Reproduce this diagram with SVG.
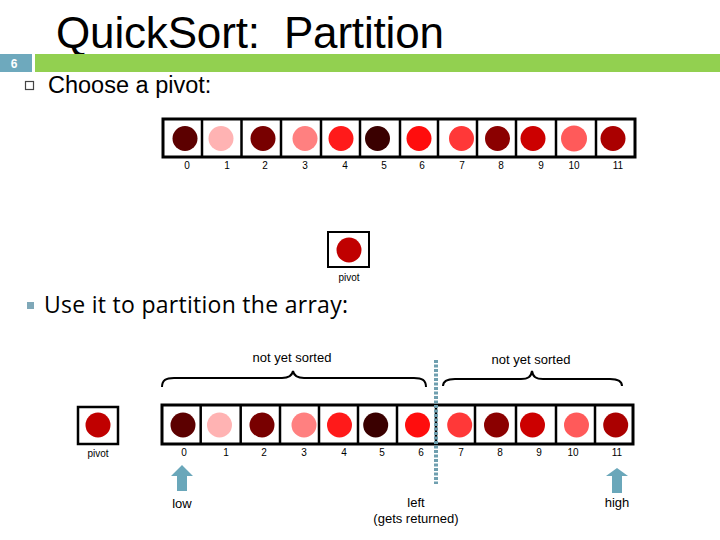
<svg xmlns="http://www.w3.org/2000/svg" width="720" height="540" viewBox="0 0 720 540">
<style>
.t{font-family:"Liberation Sans",Arial,sans-serif;fill:#000}
.idx{font-family:"Liberation Sans",Arial,sans-serif;font-size:10px;fill:#000;text-anchor:middle}
.lbl{font-family:"Liberation Sans",Arial,sans-serif;font-size:13px;fill:#000;text-anchor:middle}
.cell{fill:#fff;stroke:#000;stroke-width:3}
.div{stroke:#000;stroke-width:2.5}
.brace{fill:none;stroke:#000;stroke-width:2}
.arr{fill:#6aa7ba}
</style>
<rect width="720" height="540" fill="#fff"/>
<g id="header">
<text class="t" x="56" y="48" font-size="44" textLength="388" xml:space="preserve" style="white-space:pre">QuickSort:  Partition</text>
<rect x="0" y="54" width="32" height="18" fill="#6ea9bd"/>
<text x="14" y="68" font-family="Liberation Sans,Arial,sans-serif" font-size="12" font-weight="bold" fill="#fff" text-anchor="middle">6</text>
<rect x="35" y="54" width="685" height="18" fill="#92d050"/>
</g>
<g id="bullet1">
<rect x="25.5" y="81.5" width="8" height="8" fill="none" stroke="#444" stroke-width="1.2"/>
<text class="t" x="48" y="93" font-size="23.5">Choose a pivot:</text>
</g>
<g id="top-array">
<rect class="cell" x="163" y="119" width="472" height="38"/>
<g class="div">
<line x1="202" y1="119" x2="202" y2="157"/><line x1="241.5" y1="119" x2="241.5" y2="157"/><line x1="281" y1="119" x2="281" y2="157"/><line x1="321" y1="119" x2="321" y2="157"/><line x1="360" y1="119" x2="360" y2="157"/><line x1="400" y1="119" x2="400" y2="157"/><line x1="438" y1="119" x2="438" y2="157"/><line x1="477" y1="119" x2="477" y2="157"/><line x1="516" y1="119" x2="516" y2="157"/><line x1="556" y1="119" x2="556" y2="157"/><line x1="596" y1="119" x2="596" y2="157"/>
</g>
<circle cx="185" cy="138.5" r="12.5" fill="#5c0000"/>
<circle cx="221" cy="138.5" r="12.5" fill="#ffb3b3"/>
<circle cx="263" cy="138.5" r="12.5" fill="#780000"/>
<circle cx="305" cy="138.5" r="12.5" fill="#ff8080"/>
<circle cx="341" cy="138.5" r="12.5" fill="#ff1a1a"/>
<circle cx="377.5" cy="138.5" r="12.5" fill="#3a0000"/>
<circle cx="419" cy="138.5" r="12.5" fill="#ff0d0d"/>
<circle cx="461.5" cy="138.5" r="12.5" fill="#ff3838"/>
<circle cx="497.5" cy="138.5" r="12.5" fill="#8b0000"/>
<circle cx="533" cy="138.5" r="12.5" fill="#cc0000"/>
<circle cx="574" cy="138.5" r="13" fill="#ff5a5a"/>
<circle cx="613" cy="138.5" r="12.5" fill="#aa0000"/>
<text class="idx" x="187" y="169">0</text><text class="idx" x="227" y="169">1</text><text class="idx" x="265" y="169">2</text><text class="idx" x="305" y="169">3</text><text class="idx" x="345" y="169">4</text><text class="idx" x="384" y="169">5</text><text class="idx" x="422" y="169">6</text><text class="idx" x="462" y="169">7</text><text class="idx" x="501" y="169">8</text><text class="idx" x="541" y="169">9</text><text class="idx" x="574" y="169">10</text><text class="idx" x="618" y="169">11</text>
</g>
<g id="pivot-top">
<rect x="328" y="232" width="41" height="35" fill="#fff" stroke="#000" stroke-width="2"/>
<circle cx="349" cy="250" r="12.5" fill="#c00000"/>
<text class="idx" x="349" y="281" font-size="12">pivot</text>
</g>
<g id="bullet2">
<rect x="27" y="302" width="7" height="7" fill="#7fa8b8"/>
<text x="44" y="313" font-family="Open Sans,Noto Sans,sans-serif" font-size="23" fill="#000" textLength="304">Use it to partition the array:</text>
</g>
<g id="braces">
<path class="brace" d="M162,387 C162,380 166,378 174,378 L282,378 C289,378 292,376 293,371 C294,376 297,378 304,378 L414,378 C422,378 426,380 426,387"/>
<text class="lbl" x="292" y="362" font-size="14">not yet sorted</text>
<path class="brace" d="M443,386 C443,381 447,379 455,379 L521,379 C528,379 531,377 532,371 C533,377 536,379 543,379 L610,379 C618,379 622,381 622,386"/>
<text class="lbl" x="531" y="364" font-size="14">not yet sorted</text>
</g>
<g id="pivot-bottom">
<rect x="78" y="407" width="40" height="37" fill="#fff" stroke="#000" stroke-width="2.5"/>
<circle cx="98" cy="425" r="12.5" fill="#c00000"/>
<text class="idx" x="98" y="457" font-size="12">pivot</text>
</g>
<g id="bottom-array">
<rect class="cell" x="162" y="405" width="471" height="39"/>
<g class="div">
<line x1="200.7" y1="405" x2="200.7" y2="444"/><line x1="240.7" y1="405" x2="240.7" y2="444"/><line x1="280" y1="405" x2="280" y2="444"/><line x1="319" y1="405" x2="319" y2="444"/><line x1="358" y1="405" x2="358" y2="444"/><line x1="397" y1="405" x2="397" y2="444"/><line x1="436" y1="405" x2="436" y2="444"/><line x1="475" y1="405" x2="475" y2="444"/><line x1="516" y1="405" x2="516" y2="444"/><line x1="556" y1="405" x2="556" y2="444"/><line x1="595" y1="405" x2="595" y2="444"/>
</g>
<circle cx="183" cy="425" r="12.5" fill="#5c0000"/>
<circle cx="219.5" cy="425" r="12.5" fill="#ffb3b3"/>
<circle cx="262" cy="425" r="12.5" fill="#780000"/>
<circle cx="304" cy="425" r="12.5" fill="#ff8080"/>
<circle cx="339.5" cy="425" r="12.5" fill="#ff1a1a"/>
<circle cx="375.7" cy="425" r="12.5" fill="#3a0000"/>
<circle cx="417.5" cy="425" r="12.5" fill="#ff0d0d"/>
<circle cx="459.7" cy="425" r="12.5" fill="#ff3838"/>
<circle cx="496.5" cy="425" r="12.5" fill="#8b0000"/>
<circle cx="532.5" cy="425" r="12.5" fill="#cc0000"/>
<circle cx="576.5" cy="425" r="12.5" fill="#ff5a5a"/>
<circle cx="615.7" cy="425" r="12.5" fill="#aa0000"/>
<text class="idx" x="184" y="456">0</text><text class="idx" x="226" y="456">1</text><text class="idx" x="264" y="456">2</text><text class="idx" x="304" y="456">3</text><text class="idx" x="344" y="456">4</text><text class="idx" x="382" y="456">5</text><text class="idx" x="421" y="456">6</text><text class="idx" x="461" y="456">7</text><text class="idx" x="500" y="456">8</text><text class="idx" x="539" y="456">9</text><text class="idx" x="573" y="456">10</text><text class="idx" x="617" y="456">11</text>
</g>
<g id="connectors">
<line x1="436" y1="360" x2="436" y2="484" stroke="#6f9faf" stroke-width="4" stroke-dasharray="3 1.5"/>
<polygon class="arr" points="182,465 193,476 187,476 187,491 177,491 177,476 171,476"/>
<polygon class="arr" points="617,468 628,476 622,476 622,493 612,493 612,476 606,476"/>
</g>
<g id="labels">
<text class="lbl" x="182" y="508">low</text>
<text class="lbl" x="617" y="507">high</text>
<text class="lbl" x="416" y="507">left</text>
<text class="lbl" x="416" y="523">(gets returned)</text>
</g>
</svg>
